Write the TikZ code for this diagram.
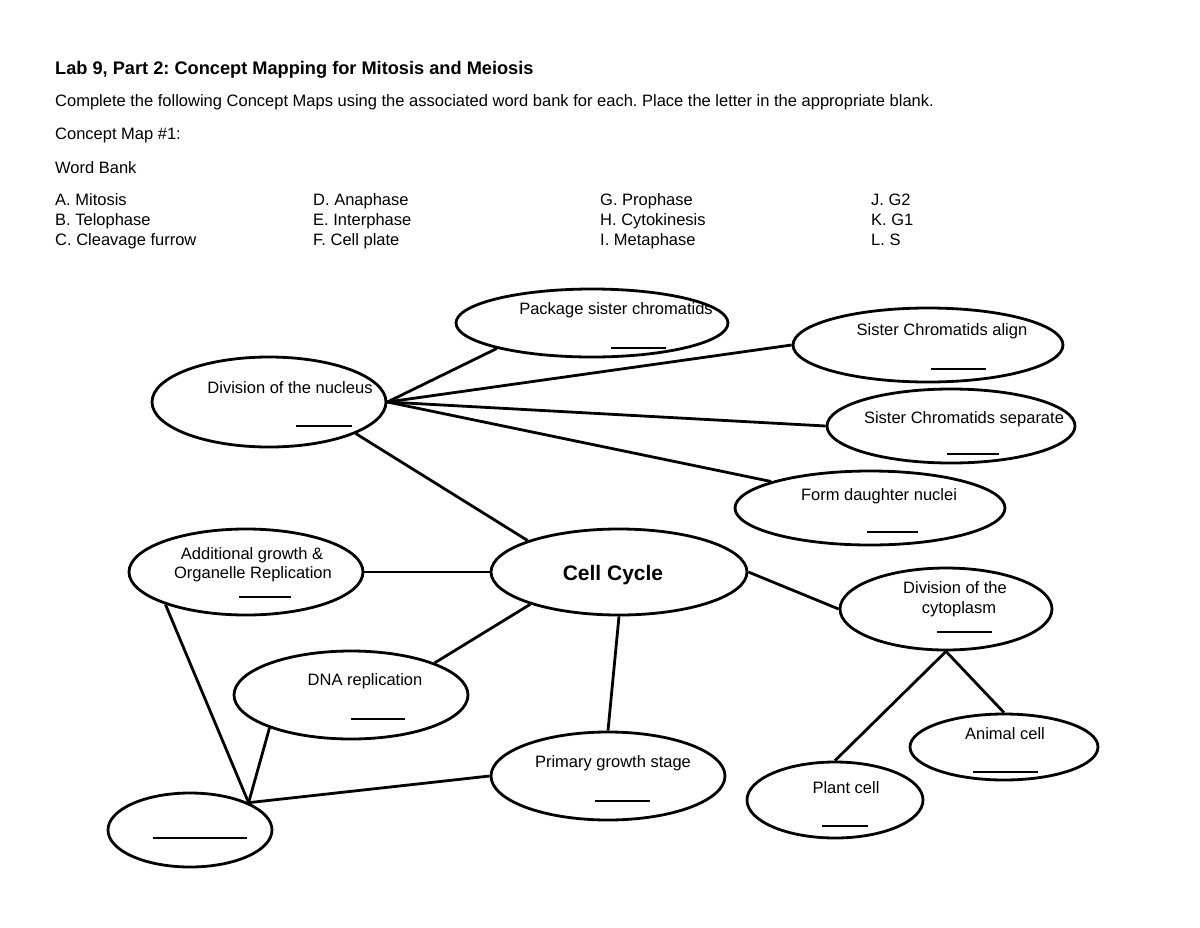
\documentclass[tikz,border=0pt]{standalone}
\usepackage{fontspec}
\setmainfont{Liberation Sans}
\usetikzlibrary{shapes.geometric}
\frenchspacing
\begin{document}
\begin{tikzpicture}[x=1pt,y=-1pt,every node/.style={font=\fontsize{16.5}{20}\selectfont,inner sep=0pt},
 oval/.style 2 args={draw=black,ellipse,line width=2.8pt,minimum width=#1pt,minimum height=#2pt},
 txt/.style={anchor=base},
 head/.style={anchor=base west},
 link/.style={line width=2.8pt},
 blank/.style={line width=1.1pt}]
\useasboundingbox[fill=white] (0,0) rectangle (1200,927);
\node[head,font=\fontsize{18.2}{22}\selectfont\bfseries] (title) at (55,74) {Lab 9, Part 2: Concept Mapping for Mitosis and Meiosis};
\node[head] (intro) at (55,106) {Complete the following Concept Maps using the associated word bank for each. Place the letter in the appropriate blank.};
\node[head] (map) at (55,139) {Concept Map \#1:};
\node[head] (bank) at (55,173) {Word Bank};
\node[head] (wA) at (55,205) {A. Mitosis};
\node[head] (wB) at (55,225) {B. Telophase};
\node[head] (wC) at (55,245) {C. Cleavage furrow};
\node[head] (wD) at (313,205) {D. Anaphase};
\node[head] (wE) at (313,225) {E. Interphase};
\node[head] (wF) at (313,245) {F. Cell plate};
\node[head] (wG) at (600,205) {G. Prophase};
\node[head] (wH) at (600,225) {H. Cytokinesis};
\node[head] (wI) at (600,245) {I. Metaphase};
\node[head] (wJ) at (871,205) {J. G2};
\node[head] (wK) at (871,225) {K. G1};
\node[head] (wL) at (871,245) {L. S};
% ovals
\node[oval={272}{68}] (PSC) at (592,323) {};
\node[oval={270}{74}] (SCA) at (928,345) {};
\node[oval={234}{90}] (DN) at (269,402) {};
\node[oval={248}{74}] (SCS) at (951,426) {};
\node[oval={270}{74}] (FDN) at (870,508) {};
\node[oval={234}{86}] (AG) at (246,572) {};
\node[oval={256}{86}] (CC) at (619,572) {};
\node[oval={212}{82}] (DC) at (946,609) {};
\node[oval={234}{88}] (DNA) at (351,695) {};
\node[oval={234}{88}] (PGS) at (608,776) {};
\node[oval={188}{66}] (AC) at (1004,747) {};
\node[oval={176}{76}] (PC) at (835,800) {};
\node[oval={164}{74}] (BL) at (190,830) {};
% labels
\node[txt] (PSCt) at (616,314) {Package sister chromatids};
\node[txt] (SCAt) at (942,335) {Sister Chromatids align};
\node[txt] (DNt) at (290,393) {Division of the nucleus};
\node[txt] (SCSt) at (964,423) {Sister Chromatids separate};
\node[txt] (FDNt) at (879,500) {Form daughter nuclei};
\node[txt] (AGt) at (252,559) {Additional growth \&};
\node[txt] (AGu) at (253,578) {Organelle Replication};
\node[txt,font=\fontsize{21}{25}\selectfont\bfseries] (CCt) at (613,580) {Cell Cycle};
\node[txt] (DCt) at (955,593) {Division of the};
\node[txt] (DCu) at (959,613) {cytoplasm};
\node[txt] (DNAt) at (365,685) {DNA replication};
\node[txt] (PGSt) at (613,767) {Primary growth stage};
\node[txt] (ACt) at (1005,739) {Animal cell};
\node[txt] (PCt) at (846,793) {Plant cell};
% blanks
\foreach \a/\b/\c in {611/666/348,931/986/369,296/352/426,947/999/454,867/918/532,239/291/597,
 937/992/632,351/405/719,595/650/801,973/1038/772,822/868/826,153/247/838}
 {\draw[blank] (\a,\c) -- (\b,\c);}
% links
\coordinate (hub) at (BL.25);
\foreach \x/\y in {DN.east/PSC.195,DN.east/SCA.west,DN.east/SCS.west,DN.east/FDN.165,DN.340/CC.161,
 AG.east/CC.west,CC.200/DNA.21,CC.south/PGS.north,CC.east/DC.west,DC.south/PC.north,DC.south/AC.north,
 AG.202/hub,DNA.202/hub,PGS.west/hub}
 {\draw[link] (\x) -- (\y);}
\end{tikzpicture}
\end{document}
